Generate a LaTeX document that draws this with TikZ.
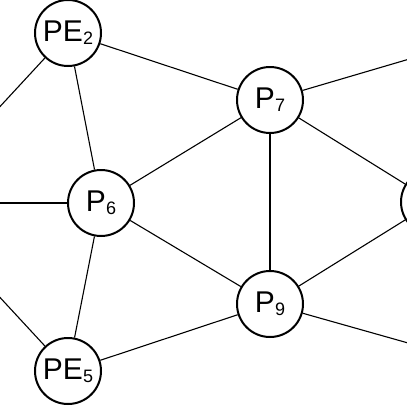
\documentclass[tikz,border=0pt]{standalone}
\usepackage{fontspec}
\setmainfont{Liberation Sans}
\newcommand{\lbl}[2]{\fontsize{30}{32}\selectfont #1\raisebox{-3pt}{\fontsize{18}{18}\selectfont #2}}
\begin{document}
\begin{tikzpicture}[x=1pt,y=-1pt,
  router/.style={circle,draw,line width=2pt,fill=white,minimum size=66pt,inner sep=0pt},
  link/.style={line width=1.1pt}]
\useasboundingbox (0,0) rectangle (407,407);
\node[router] (PE2) at (68,33) {\lbl{PE}{2}};
\node[router] (P7) at (270,100) {\lbl{P}{7}};
\node[router] (P6) at (101,203) {\lbl{P}{6}};
\node[router] (P9) at (270,304) {\lbl{P}{9}};
\node[router] (PE5) at (68,371) {\lbl{PE}{5}};
\node[router] (R) at (434,202) {};
\coordinate (L1) at (-30,139);
\coordinate (L2) at (-30,203);
\coordinate (L3) at (-30,265);
\coordinate (R1) at (440,50);
\coordinate (R2) at (440,352);
\begin{scope}[on background layer/.style={}]
\end{scope}
\draw[link] (PE2) -- (L1);
\draw[link] (PE2) -- (P7);
\draw[link] (PE2) -- (P6);
\draw[link] (P6) -- (L2);
\draw[link] (P6) -- (P7);
\draw[link] (P6) -- (P9);
\draw[link] (P6) -- (PE5);
\draw[link] (PE5) -- (L3);
\draw[link] (PE5) -- (P9);
\draw[link] (P7) -- (R1);
\draw[link] (P7) -- (P9);
\draw[link] (P7) -- (R);
\draw[link] (P9) -- (R);
\draw[link] (P9) -- (R2);
\end{tikzpicture}
\end{document}
